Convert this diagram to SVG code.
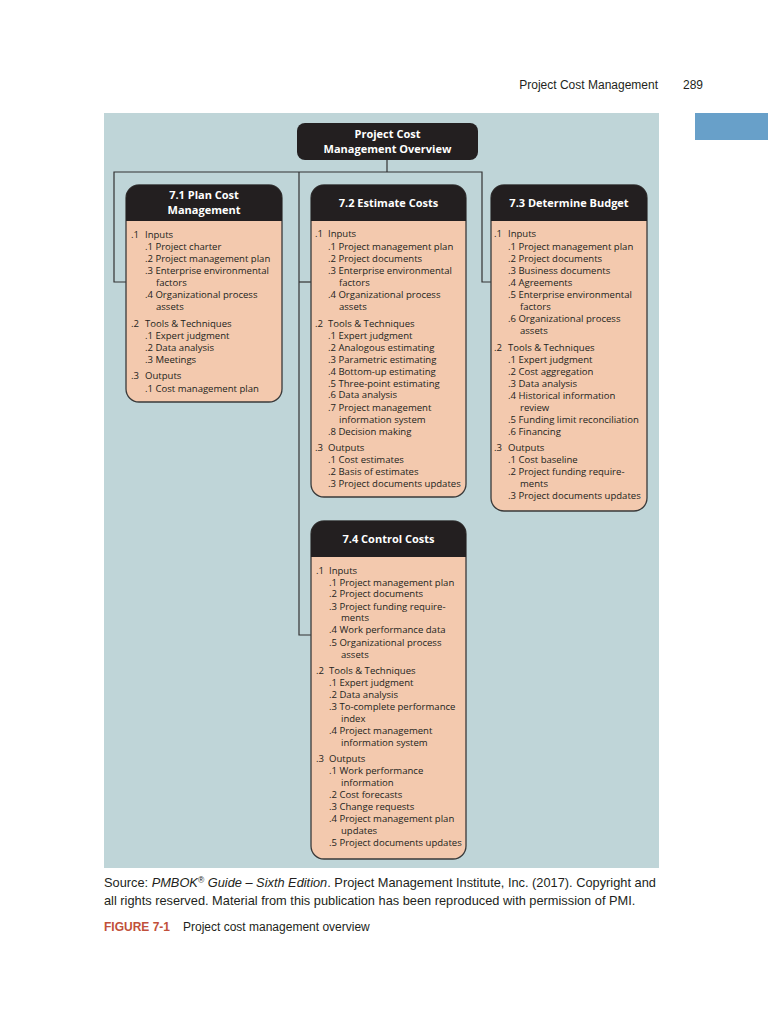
<svg xmlns="http://www.w3.org/2000/svg" width="768" height="1024" viewBox="0 0 768 1024">
<style>
.hdr{font-family:"Liberation Sans",Arial,sans-serif;font-size:12px;fill:#231f20}
.cap{font-family:"Liberation Sans",Arial,sans-serif;font-size:12.8px;fill:#231f20}
.fig{font-family:"Liberation Sans",Arial,sans-serif;font-size:12px;fill:#231f20}
.body{fill:#f3c9ae;stroke:#3a3a3a;stroke-width:1.3}
.head{fill:#231f20}
.ttl{font-family:"Open Sans","Noto Sans",sans-serif;font-size:11px;font-weight:700;fill:#ffffff;text-anchor:middle}
.t{font-family:"Open Sans","Noto Sans",sans-serif;font-size:9.55px;font-weight:500;fill:#231f20}
.conn{fill:none;stroke:#333333;stroke-width:1.2}
</style>
<rect width="768" height="1024" fill="#ffffff"/>
<text class="hdr" x="658" y="89" text-anchor="end">Project Cost Management</text>
<text class="hdr" x="683" y="89">289</text>
<rect x="695" y="113" width="73" height="27" fill="#68a0c9"/>
<rect x="104" y="113" width="555" height="755" fill="#bfd5d8"/>

<g id="connectors">
<path class="conn" d="M387,160 V172"/>
<path class="conn" d="M126,282 H114 V172 H482 V282 H491"/>
<path class="conn" d="M299,172 V635 H311"/>
<path class="conn" d="M299,282 H311"/>
</g>

<g id="overview">
<rect x="297" y="123" width="181" height="37" rx="8" fill="#231f20"/>
<text class="ttl" x="387.5" y="137.5">Project Cost</text>
<text class="ttl" x="387.5" y="152.5">Management Overview</text>
</g>

<g id="plan-cost">
<rect class="body" x="126" y="185" width="156" height="217" rx="13"/>
<path class="head" d="M126,221 V198 A13,13 0 0 1 139,185 H269 A13,13 0 0 1 282,198 V221 Z"/>
<text class="ttl" x="204" y="199">7.1 Plan Cost</text>
<text class="ttl" x="204" y="214">Management</text>
<text class="t" x="131" y="237.5">.1<tspan x="145">Inputs</tspan></text>
<text class="t" x="145" y="250">.1 Project charter</text>
<text class="t" x="145" y="262">.2 Project management plan</text>
<text class="t" x="145" y="274">.3 Enterprise environmental</text>
<text class="t" x="156" y="286">factors</text>
<text class="t" x="145" y="298">.4 Organizational process</text>
<text class="t" x="156" y="310">assets</text>
<text class="t" x="131" y="326.5">.2<tspan x="145">Tools &amp; Techniques</tspan></text>
<text class="t" x="145" y="338.5">.1 Expert judgment</text>
<text class="t" x="145" y="350.5">.2 Data analysis</text>
<text class="t" x="145" y="362.5">.3 Meetings</text>
<text class="t" x="131" y="379">.3<tspan x="145">Outputs</tspan></text>
<text class="t" x="145" y="391.5">.1 Cost management plan</text>
</g>

<g id="estimate-costs">
<rect class="body" x="311" y="185" width="155" height="312" rx="13"/>
<path class="head" d="M311,221 V198 A13,13 0 0 1 324,185 H453 A13,13 0 0 1 466,198 V221 Z"/>
<text class="ttl" x="388.5" y="207">7.2 Estimate Costs</text>
<text class="t" x="315" y="237">.1<tspan x="328">Inputs</tspan></text>
<text class="t" x="328" y="249.5">.1 Project management plan</text>
<text class="t" x="328" y="261.5">.2 Project documents</text>
<text class="t" x="328" y="273.5">.3 Enterprise environmental</text>
<text class="t" x="339" y="285.5">factors</text>
<text class="t" x="328" y="297.5">.4 Organizational process</text>
<text class="t" x="339" y="310">assets</text>
<text class="t" x="315" y="326.5">.2<tspan x="328">Tools &amp; Techniques</tspan></text>
<text class="t" x="328" y="338.5">.1 Expert judgment</text>
<text class="t" x="328" y="350.5">.2 Analogous estimating</text>
<text class="t" x="328" y="362.5">.3 Parametric estimating</text>
<text class="t" x="328" y="374.5">.4 Bottom-up estimating</text>
<text class="t" x="328" y="386.5">.5 Three-point estimating</text>
<text class="t" x="328" y="398">.6 Data analysis</text>
<text class="t" x="328" y="410.5">.7 Project management</text>
<text class="t" x="339" y="422.5">information system</text>
<text class="t" x="328" y="434.5">.8 Decision making</text>
<text class="t" x="315" y="450.5">.3<tspan x="328">Outputs</tspan></text>
<text class="t" x="328" y="462.5">.1 Cost estimates</text>
<text class="t" x="328" y="474.5">.2 Basis of estimates</text>
<text class="t" x="328" y="486.5">.3 Project documents updates</text>
</g>

<g id="determine-budget">
<rect class="body" x="491" y="185" width="156" height="326" rx="13"/>
<path class="head" d="M491,221 V198 A13,13 0 0 1 504,185 H634 A13,13 0 0 1 647,198 V221 Z"/>
<text class="ttl" x="569" y="207">7.3 Determine Budget</text>
<text class="t" x="494" y="237">.1<tspan x="508">Inputs</tspan></text>
<text class="t" x="508" y="250">.1 Project management plan</text>
<text class="t" x="508" y="262">.2 Project documents</text>
<text class="t" x="508" y="274">.3 Business documents</text>
<text class="t" x="508" y="286">.4 Agreements</text>
<text class="t" x="508" y="298">.5 Enterprise environmental</text>
<text class="t" x="520" y="310">factors</text>
<text class="t" x="508" y="322">.6 Organizational process</text>
<text class="t" x="520" y="334">assets</text>
<text class="t" x="494" y="350.5">.2<tspan x="508">Tools &amp; Techniques</tspan></text>
<text class="t" x="508" y="362.5">.1 Expert judgment</text>
<text class="t" x="508" y="374.5">.2 Cost aggregation</text>
<text class="t" x="508" y="386.5">.3 Data analysis</text>
<text class="t" x="508" y="398.5">.4 Historical information</text>
<text class="t" x="520" y="410.5">review</text>
<text class="t" x="508" y="422.5">.5 Funding limit reconciliation</text>
<text class="t" x="508" y="434.5">.6 Financing</text>
<text class="t" x="494" y="451">.3<tspan x="508">Outputs</tspan></text>
<text class="t" x="508" y="462.5">.1 Cost baseline</text>
<text class="t" x="508" y="474.5">.2 Project funding require-</text>
<text class="t" x="520" y="486.5">ments</text>
<text class="t" x="508" y="498.5">.3 Project documents updates</text>
</g>

<g id="control-costs">
<rect class="body" x="311" y="521" width="155" height="338" rx="13"/>
<path class="head" d="M311,557 V534 A13,13 0 0 1 324,521 H453 A13,13 0 0 1 466,534 V557 Z"/>
<text class="ttl" x="388.5" y="543">7.4 Control Costs</text>
<text class="t" x="316" y="573.5">.1<tspan x="329">Inputs</tspan></text>
<text class="t" x="329" y="585.5">.1 Project management plan</text>
<text class="t" x="329" y="597">.2 Project documents</text>
<text class="t" x="329" y="609.5">.3 Project funding require-</text>
<text class="t" x="341" y="621">ments</text>
<text class="t" x="329" y="633">.4 Work performance data</text>
<text class="t" x="329" y="645.5">.5 Organizational process</text>
<text class="t" x="341" y="657.5">assets</text>
<text class="t" x="316" y="673.5">.2<tspan x="329">Tools &amp; Techniques</tspan></text>
<text class="t" x="329" y="686">.1 Expert judgment</text>
<text class="t" x="329" y="697.5">.2 Data analysis</text>
<text class="t" x="329" y="709.5">.3 To-complete performance</text>
<text class="t" x="341" y="721.5">index</text>
<text class="t" x="329" y="734">.4 Project management</text>
<text class="t" x="341" y="745.5">information system</text>
<text class="t" x="316" y="761.5">.3<tspan x="329">Outputs</tspan></text>
<text class="t" x="329" y="773.5">.1 Work performance</text>
<text class="t" x="341" y="785.5">information</text>
<text class="t" x="329" y="797.5">.2 Cost forecasts</text>
<text class="t" x="329" y="809.5">.3 Change requests</text>
<text class="t" x="329" y="821.5">.4 Project management plan</text>
<text class="t" x="341" y="834">updates</text>
<text class="t" x="329" y="845.5">.5 Project documents updates</text>
</g>

<text class="cap" x="104" y="887">Source: <tspan font-style="italic">PMBOK</tspan><tspan font-size="8.5" dy="-4">®</tspan><tspan font-style="italic" dy="4"> Guide – Sixth Edition</tspan>. Project Management Institute, Inc. (2017). Copyright and</text>
<text class="cap" x="104" y="905">all rights reserved. Material from this publication has been reproduced with permission of PMI.</text>
<text class="fig" x="104" y="931" style="fill:#c1503a;font-weight:bold">FIGURE 7-1</text>
<text class="fig" x="183" y="931">Project cost management overview</text>
</svg>
